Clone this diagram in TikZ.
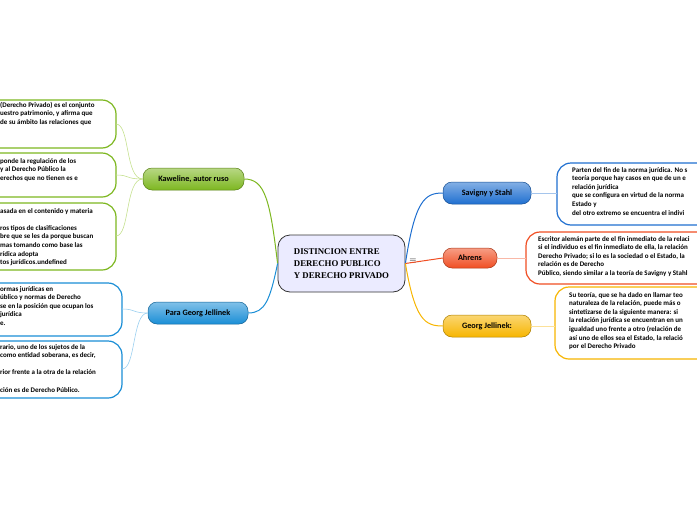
\documentclass[tikz,border=0pt]{standalone}
\usepackage{fontspec}
\setmainfont{Carlito}
\definecolor{gr}{HTML}{7DB720}\definecolor{grl}{HTML}{C5E08E}
\definecolor{bl}{HTML}{1A8ED6}\definecolor{bll}{HTML}{9BD0F0}
\definecolor{db}{HTML}{1F6FD0}\definecolor{rd}{HTML}{F04E23}
\definecolor{og}{HTML}{F7B500}
\begin{document}
\begin{tikzpicture}[x=1pt,y=-1pt,
 br/.style={rounded corners=9pt,draw=#1!70!black,top color=#1!55!white,bottom color=#1,line width=0.5pt},
 leaf/.style={rounded corners=14pt,draw=#1,line width=1.2pt,fill=white},
 lt/.style={anchor=north west,align=left,inner sep=0pt,font=\fontsize{7}{8.6}\selectfont\bfseries},
 bt/.style={font=\fontsize{8.2}{9}\selectfont\bfseries}]
\useasboundingbox (0,0) rectangle (697,520);
\clip (0,0) rectangle (697,520);
% center
\node[draw=black!80,fill=blue!8,rounded corners=12pt,line width=0.8pt,minimum width=127pt,minimum height=57pt,align=left,font=\fontsize{8.8}{12}\selectfont\fontspec{Liberation Serif}\bfseries] (c) at (341.5,263.5) {DISTINCION ENTRE\\DERECHO PUBLICO\\Y DERECHO PRIVADO};
\node[font=\small] (ic) at (413,261) {$\equiv$};
% branches
\node[br=gr,minimum width=101pt,minimum height=22pt,bt] (k) at (193.5,179) {Kaweline, autor ruso};
\node[br=bl,minimum width=100pt,minimum height=22pt,bt] (p) at (198,313) {Para Georg Jellinek};
\node[br=db,minimum width=88pt,minimum height=22pt,bt] (s) at (487,193) {Savigny y Stahl};
\node[br=rd,minimum width=54pt,minimum height=20pt,bt] (a) at (470,258) {Ahrens};
\node[br=og,minimum width=88pt,minimum height=22pt,bt] (g) at (487,326) {Georg Jellinek:};
\draw[gr,line width=1pt] (c.west) .. controls (270,200) and (265,179) .. (k.east);
\draw[bl,line width=1pt] (c.west) .. controls (270,300) and (265,313) .. (p.east);
\draw[db,line width=1pt] (c.east) .. controls (415,200) and (425,193) .. (s.west);
\draw[rd,line width=1pt] (c.east) -- (a.west);
\draw[og,line width=1pt] (c.east) .. controls (415,320) and (425,326) .. (g.west);
% left leaves
\draw[leaf=gr] (-20,100) rectangle (116,148); \coordinate (l1) at (116,124);
\draw[leaf=gr] (-20,153) rectangle (116,197); \coordinate (l2) at (116,175);
\draw[leaf=gr] (-20,203) rectangle (116,270); \coordinate (l3) at (116,236);
\draw[leaf=bl] (-20,283) rectangle (122,336); \coordinate (l4) at (122,309);
\draw[leaf=bl] (-20,341) rectangle (122,398); \coordinate (l5) at (122,369);
\foreach \l in {l1,l2,l3} \draw[grl,line width=0.6pt] (k.west) .. controls (125,179) and (130,0 |- \l) .. (\l);
\foreach \l in {l4,l5} \draw[bll,line width=0.6pt] (p.west) .. controls (132,313) and (136,0 |- \l) .. (\l);
\node[lt] (t1) at (0,102) {(Derecho Privado) es el conjunto\\uestro patrimonio, y afirma que\\de su ámbito las relaciones que};
\node[lt] (t2) at (0,158) {ponde la regulación de los\\y al Derecho Público la\\erechos que no tienen es e};
\node[lt] (t3) at (0,208) {asada en el contenido y materia\\\\ros tipos de clasificaciones\\bre que se les da porque buscan\\mas tomando como base las\\rídica adopta\\tos jurídicos.undefined};
\node[lt] (t4) at (0,286) {ormas jurídicas en\\úblico y normas de Derecho\\se en la posición que ocupan los\\ jurídica\\e.};
\node[lt] (t5) at (0,344) {rario, uno de los sujetos de la\\como entidad soberana, es decir,\\\\rior frente a la otra de la relación\\\\ción es de Derecho Público.};
% right leaves
\draw[leaf=db] (557,163) rectangle (720,225); \coordinate (r1) at (557,193);
\draw[leaf=rd] (526,232) rectangle (720,284); \coordinate (r2) at (526,258);
\draw[leaf=og] (555,287) rectangle (720,359); \coordinate (r3) at (555,326);
\draw[db!40,line width=0.6pt] (s.east) -- (r1);
\draw[rd!40,line width=0.6pt] (a.east) -- (r2);
\draw[og!40,line width=0.6pt] (g.east) -- (r3);
\node[lt] (t6) at (572,167) {Parten del fin de la norma jurídica. No s\\teoría porque hay casos en que de un e\\relación jurídica\\que se configura en virtud de la norma\\Estado y\\del otro extremo se encuentra el indivi};
\node[lt] (t7) at (538,236) {Escritor alemán parte de el fin inmediato de la relaci\\si el individuo es el fin inmediato de ella, la relación\\Derecho Privado; si lo es la sociedad o el Estado, la\\relación es de Derecho\\Público, siendo similar a la teoría de Savigny y Stahl};
\node[lt] (t8) at (569,292) {Su teoría, que se ha dado en llamar teo\\naturaleza de la relación, puede más o\\sintetizarse de la siguiente manera: si\\la relación jurídica se encuentran en un\\igualdad uno frente a otro (relación de\\así uno de ellos sea el Estado, la relació\\por el Derecho Privado};
\end{tikzpicture}
\end{document}
